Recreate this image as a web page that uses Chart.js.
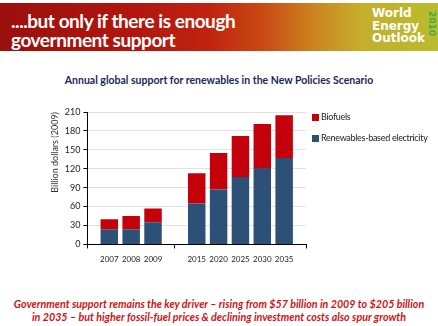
<!DOCTYPE html>
<html>
<head>
<meta charset="utf-8">
<script src="https://cdn.jsdelivr.net/npm/chart.js@4.4.0/dist/chart.umd.min.js"></script>
<style>
  html, body { margin: 0; padding: 0; background: #fff; overflow: hidden; }
  body { width: 438px; height: 326px; position: relative; font-family: Lato, sans-serif; }
  #banner {
    position: absolute; left: 0; top: 3px; width: 438px; height: 48px;
    background: linear-gradient(90deg, #9a100c 0%, #b0160e 30%, #c0240f 48%, #c84a14 60%, #cc8420 72%, #c6ae2c 82%, #b8bc2e 100%);
  }
  #headline {
    position: absolute; left: 11px; top: 8px; color: #fff; font-weight: bold;
    font-size: 19px; line-height: 19px; letter-spacing: -0.45px;
  }
  #logo {
    position: absolute; right: 13px; top: 4px; color: #fff; font-family: "DejaVu Sans", sans-serif;
    font-weight: bold; font-size: 12px; line-height: 12.5px; text-align: left;
  }
  #logoYear {
    position: absolute; right: 1px; top: 8px; color: #3cae4a; font-family: "DejaVu Sans", sans-serif;
    font-weight: bold; font-size: 9px; writing-mode: vertical-rl;
  }
  #chartTitle {
    position: absolute; left: 0; top: 74px; width: 438px; text-align: center;
    color: #1b2858; font-weight: bold; font-size: 10.5px; line-height: 12px;
  }
  #chartBox { position: absolute; left: 0; top: 60px; width: 438px; height: 210px; }
  #legend { position: absolute; left: 312px; top: 112px; font-size: 9px; letter-spacing: -0.3px; color: #222; }
  .item { position: absolute; left: 0; white-space: nowrap; height: 10px; line-height: 10px; }
  .swatch { position: absolute; left: 0; top: 1.5px; width: 7px; height: 7px; }
  .item span.t { position: absolute; left: 9px; top: 0; }
  #caption {
    position: absolute; left: 0; top: 297px; width: 438px; text-align: center;
    color: #cc1414; font-weight: bold; font-style: italic; font-size: 10.7px; line-height: 13px;
  }
</style>
</head>
<body>
<div id="banner">
  <div id="headline">....but only if there is enough<br>government support</div>
  <div id="logo">World<br>Energy<br>Outlook</div>
  <div id="logoYear">2010</div>
</div>
<div id="chartTitle">Annual global support for renewables in the New Policies Scenario</div>
<div id="chartBox"><canvas id="myChart" width="438" height="210"></canvas></div>
<div id="legend"></div>
<div id="caption">Government support remains the key driver – rising from $57 billion in 2009 to $205 billion<br>in 2035 – but higher fossil-fuel prices &amp; declining investment costs also spur growth</div>

<script>
// blanks pad the ends and split history from projections
const categories = ['', '2007', '2008', '2009', '', '2015', '2020', '2025', '2030', '2035', ''];
const electricity = [null, 24, 24, 35, null, 65, 87, 107, 121, 137, null];
const biofuels = [null, 16, 21, 22, null, 48, 58, 65, 70, 68, null];
const yTicks = [0, 30, 60, 90, 120, 150, 180, 210];

const ctx = document.getElementById('myChart').getContext('2d');
const chart = new Chart(ctx, {
    type: 'bar',
    data: {
        labels: categories,
        datasets: [
            { label: 'Renewables-based electricity', data: electricity, backgroundColor: '#2d5077' },
            { label: 'Biofuels', data: biofuels, backgroundColor: '#c4000b' }
        ]
    },
    options: {
        responsive: false,
        animation: false,
        categoryPercentage: 1,
        barPercentage: 0.8,
        layout: { padding: { left: 45, right: 132, top: 52, bottom: 0 } },
        plugins: {
            legend: { display: false },
            tooltip: { enabled: false }
        },
        scales: {
            x: {
                stacked: true,
                offset: false,
                grid: {
                    offset: false,
                    drawOnChartArea: false,
                    tickLength: 4,
                    tickColor: c => (c.index === 0 || c.index === 4 || c.index === 10) ? '#000' : 'rgba(0,0,0,0)'
                },
                border: { color: '#000', width: 1 },
                ticks: { color: '#222', font: { family: 'Lato', size: 8 }, padding: 6, maxRotation: 0, autoSkip: false }
            },
            y: {
                stacked: true,
                min: 0,
                max: 210,
                afterBuildTicks: axis => { axis.ticks = yTicks.map(v => ({ value: v })); },
                grid: { color: '#e2e2e2', tickColor: '#000', tickLength: 4 },
                border: { color: '#000', width: 1 },
                ticks: { color: '#222', font: { family: 'Lato', size: 9 }, padding: 3 },
                title: {
                    display: true,
                    text: 'Billion dollars (2009)',
                    align: 'end',
                    color: '#333',
                    font: { family: 'Lato', size: 9 },
                    padding: { top: 5, bottom: 1 }
                }
            }
        }
    }
});

// legend built from the datasets, biofuels on top
const legendEl = document.getElementById('legend');
chart.data.datasets.slice().reverse().forEach((ds, i) => {
    const item = document.createElement('div');
    item.className = 'item';
    item.style.top = (i * 21) + 'px';
    item.innerHTML = '<div class="swatch" style="background:' + ds.backgroundColor + '"></div><span class="t">' + ds.label + '</span>';
    legendEl.appendChild(item);
});
</script>
</body>
</html>
